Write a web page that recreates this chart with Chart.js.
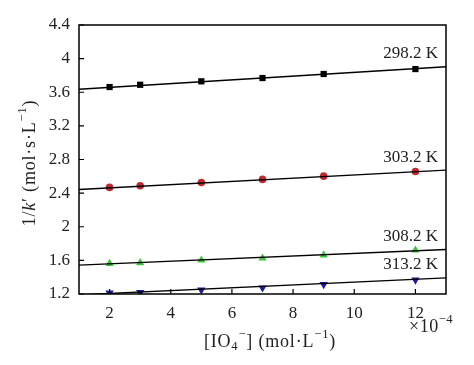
<!DOCTYPE html>
<html>
<head>
<meta charset="utf-8">
<script src="https://cdn.jsdelivr.net/npm/chart.js@4/dist/chart.umd.min.js"></script>
<style>
    html, body { margin: 0; padding: 0; background: #fff; }
    #wrap { width: 474px; height: 365px; }
</style>
</head>
<body>
<div id="wrap"><canvas id="chartK"></canvas></div>
<script>
// concentracao de IO4- (x 10^-4 mol/L)
var conc = [2, 3, 5, 7, 9, 12];

// 1/k' por temperatura
var temps = ['298.2 K', '303.2 K', '308.2 K', '313.2 K'];
var k298 = [3.662, 3.689, 3.730, 3.769, 3.817, 3.876];
var k303 = [2.468, 2.487, 2.527, 2.563, 2.602, 2.658];
var k308 = [1.563, 1.570, 1.602, 1.626, 1.662, 1.721];
var k313 = [1.213, 1.220, 1.249, 1.274, 1.313, 1.368];

// retas ajustadas (extremos x = 1 e x = 13)
var fitX = [1, 13];
var fit298 = [3.635, 3.904];
var fit303 = [2.444, 2.674];
var fit308 = [1.543, 1.730];
var fit313 = [1.190, 1.392];

var xTicks = [2, 4, 6, 8, 10, 12];
var yTicks = [1.2, 1.6, 2, 2.4, 2.8, 3.2, 3.6, 4, 4.4];

var FONT = '"Liberation Serif", "Times New Roman", serif';

function pts(xs, ys) {
    return xs.map(function(x, i){ return {x: x, y: ys[i]}; });
}

function markers(label, ys, color, style, radius, rot) {
    return {
        label: label,
        data: pts(conc, ys),
        showLine: false,
        pointStyle: style,
        pointRadius: radius,
        pointRotation: rot || 0,
        backgroundColor: color,
        borderColor: color,
        borderWidth: 0
    };
}

function fitLine(ys) {
    return {
        type: 'line',
        data: pts(fitX, ys),
        borderColor: '#000',
        borderWidth: 1.4,
        pointRadius: 0,
        fill: false
    };
}

// texto com italico / sobrescrito / subscrito
function drawRich(ctx, parts, x, y, size, spacing) {
    var font = function(p){
        var s = (p.sup || p.sub) ? size * 0.7 : size;
        return (p.it ? 'italic ' : '') + s + 'px ' + FONT;
    };
    ctx.letterSpacing = (spacing || 0) + 'px';
    var total = 0;
    parts.forEach(function(p){ ctx.font = font(p); total += ctx.measureText(p.t).width; });
    var cx = x - total / 2;
    ctx.textAlign = 'left';
    ctx.textBaseline = 'middle';
    parts.forEach(function(p){
        ctx.font = font(p);
        var dy = p.sup ? -size * 0.38 : (p.sub ? size * 0.25 : 0);
        ctx.fillText(p.t, cx, y + dy);
        cx += ctx.measureText(p.t).width;
    });
    ctx.letterSpacing = '0px';
}

var framePlugin = {
    id: 'frame',
    afterDraw: function(chart){
        var ctx = chart.ctx, a = chart.chartArea;
        var xs = chart.scales.x, ys = chart.scales.y;
        ctx.save();
        ctx.strokeStyle = '#000';
        ctx.lineWidth = 1.5;
        ctx.strokeRect(a.left, a.top, a.right - a.left, a.bottom - a.top);

        // marcas para dentro
        ctx.lineWidth = 1.2;
        ctx.beginPath();
        xTicks.forEach(function(v){
            var px = xs.getPixelForValue(v);
            ctx.moveTo(px, a.bottom); ctx.lineTo(px, a.bottom - 5);
        });
        yTicks.forEach(function(v){
            var py = ys.getPixelForValue(v);
            ctx.moveTo(a.left, py); ctx.lineTo(a.left + 5, py);
        });
        ctx.stroke();

        ctx.fillStyle = '#222';
        // rotulos das retas
        ctx.font = '17px ' + FONT;
        ctx.textAlign = 'right';
        ctx.textBaseline = 'middle';
        [fit298, fit303, fit308, fit313].forEach(function(f, i){
            ctx.fillText(temps[i], a.right - 8, ys.getPixelForValue(f[1]) - 13);
        });

        // titulo eixo x
        drawRich(ctx, [
            {t: '[IO'}, {t: '4', sub: true}, {t: '\u2212', sup: true}, {t: '] (mol\u00b7L'},
            {t: '\u22121', sup: true}, {t: ')'}
        ], 270, 342, 18, 0.8);

        // fator de escala
        drawRich(ctx, [{t: '\u00d710'}, {t: '\u22124', sup: true}], 431, 327, 18, 0.5);

        // titulo eixo y
        ctx.translate(30, 163);
        ctx.rotate(-Math.PI / 2);
        drawRich(ctx, [
            {t: '1/'}, {t: 'k', it: true}, {t: '\u2032 (mol\u00b7s\u00b7L'},
            {t: '\u22121', sup: true}, {t: ')'}
        ], 0, 0, 18, 0.8);
        ctx.restore();
    }
};

var ctx = document.getElementById('chartK').getContext('2d');
var chart = new Chart(ctx, {
    type: 'scatter',
    data: {
        datasets: [
            fitLine(fit298),
            fitLine(fit303),
            fitLine(fit308),
            fitLine(fit313),
            markers(temps[0], k298, '#000000', 'rect', 4.4),
            markers(temps[1], k303, '#bf2a2e', 'circle', 3.8),
            markers(temps[2], k308, '#3cc83c', 'triangle', 4.8),
            markers(temps[3], k313, '#1c1c9c', 'triangle', 4.8, 180)
        ]
    },
    options: {
        responsive: true,
        maintainAspectRatio: false,
        animation: false,
        layout: { padding: { left: 0, top: 25, right: 28, bottom: 0 } },
        plugins: { legend: { display: false }, tooltip: { enabled: false } },
        scales: {
            x: {
                type: 'linear',
                min: 1,
                max: 13,
                afterBuildTicks: function(s){ s.ticks = xTicks.map(function(v){ return {value: v}; }); },
                afterFit: function(s){ s.height = 71; },
                grid: { display: false, drawTicks: false },
                border: { display: false },
                ticks: {
                    padding: 9,
                    color: '#222',
                    font: { family: FONT, size: 17 },
                    maxRotation: 0
                }
            },
            y: {
                type: 'linear',
                min: 1.2,
                max: 4.4,
                afterBuildTicks: function(s){ s.ticks = yTicks.map(function(v){ return {value: v}; }); },
                afterFit: function(s){ s.width = 79; },
                grid: { display: false, drawTicks: false },
                border: { display: false },
                ticks: {
                    padding: 9,
                    color: '#222',
                    font: { family: FONT, size: 17 },
                    callback: function(v){ return String(Number(v.toFixed(1))); }
                }
            }
        }
    },
    plugins: [framePlugin]
});
</script>
</body>
</html>
